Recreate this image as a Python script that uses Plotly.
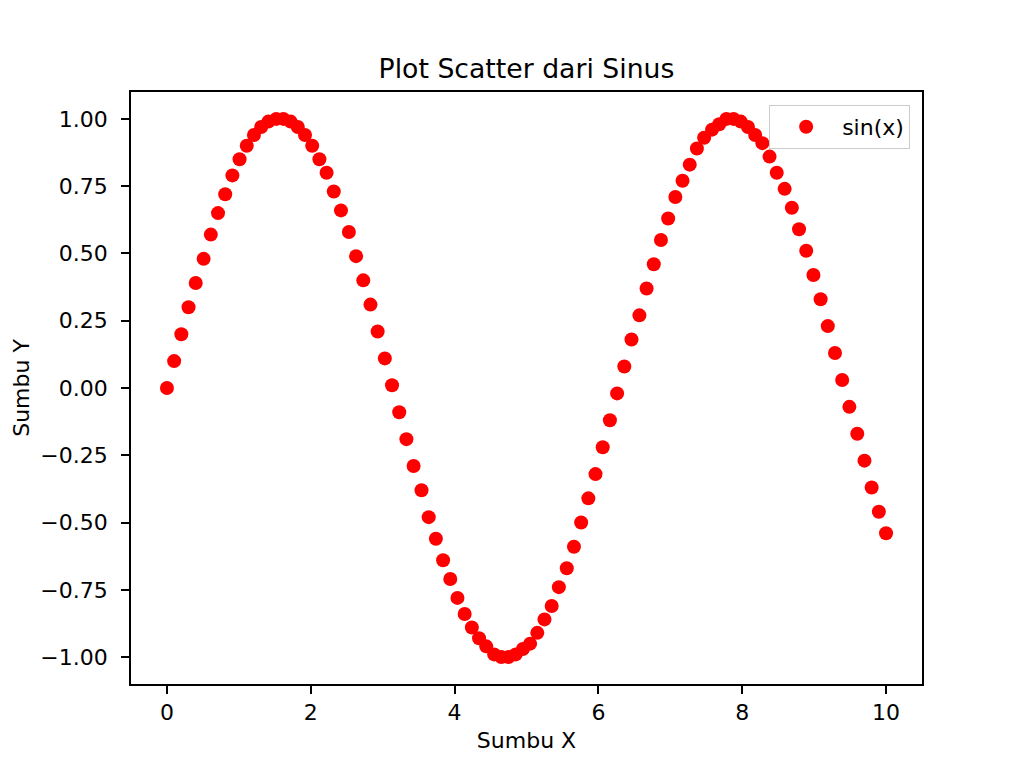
import plotly.graph_objects as go

# sample points (x from 0 to 10, 100 points)
x_vals = [0.00, 0.10, 0.20, 0.30, 0.40, 0.51, 0.61, 0.71, 0.81, 0.91,
          1.01, 1.11, 1.21, 1.31, 1.41, 1.52, 1.62, 1.72, 1.82, 1.92,
          2.02, 2.12, 2.22, 2.32, 2.42, 2.53, 2.63, 2.73, 2.83, 2.93,
          3.03, 3.13, 3.23, 3.33, 3.43, 3.54, 3.64, 3.74, 3.84, 3.94,
          4.04, 4.14, 4.24, 4.34, 4.44, 4.55, 4.65, 4.75, 4.85, 4.95,
          5.05, 5.15, 5.25, 5.35, 5.45, 5.56, 5.66, 5.76, 5.86, 5.96,
          6.06, 6.16, 6.26, 6.36, 6.46, 6.57, 6.67, 6.77, 6.87, 6.97,
          7.07, 7.17, 7.27, 7.37, 7.47, 7.58, 7.68, 7.78, 7.88, 7.98,
          8.08, 8.18, 8.28, 8.38, 8.48, 8.59, 8.69, 8.79, 8.89, 8.99,
          9.09, 9.19, 9.29, 9.39, 9.49, 9.60, 9.70, 9.80, 9.90, 10.00]
y_vals = [0.00, 0.10, 0.20, 0.30, 0.39, 0.48, 0.57, 0.65, 0.72, 0.79,
          0.85, 0.90, 0.94, 0.97, 0.99, 1.00, 1.00, 0.99, 0.97, 0.94,
          0.90, 0.85, 0.80, 0.73, 0.66, 0.58, 0.49, 0.40, 0.31, 0.21,
          0.11, 0.01, -0.09, -0.19, -0.29, -0.38, -0.48, -0.56, -0.64, -0.71,
          -0.78, -0.84, -0.89, -0.93, -0.96, -0.99, -1.00, -1.00, -0.99, -0.97,
          -0.95, -0.91, -0.86, -0.81, -0.74, -0.67, -0.59, -0.50, -0.41, -0.32,
          -0.22, -0.12, -0.02, 0.08, 0.18, 0.27, 0.37, 0.46, 0.55, 0.63,
          0.71, 0.77, 0.83, 0.89, 0.93, 0.96, 0.98, 1.00, 1.00, 0.99,
          0.97, 0.94, 0.91, 0.86, 0.80, 0.74, 0.67, 0.59, 0.51, 0.42,
          0.33, 0.23, 0.13, 0.03, -0.07, -0.17, -0.27, -0.37, -0.46, -0.54]

x_ticks = [0, 2, 4, 6, 8, 10]
y_ticks = [-1.0, -0.75, -0.5, -0.25, 0.0, 0.25, 0.5, 0.75, 1.0]
y_ticktext = ["\u22121.00", "\u22120.75", "\u22120.50", "\u22120.25",
              "0.00", "0.25", "0.50", "0.75", "1.00"]

FONT = "DejaVu Sans"
label_font = dict(family=FONT, size=22, color="black")

fig = go.Figure()
fig.add_trace(go.Scatter(
    x=x_vals, y=y_vals, mode="markers", name="sin(x)",
    marker=dict(color="#ff0000", size=14, line=dict(width=0)),
))

axis_common = dict(
    showgrid=False, zeroline=False, showline=True, mirror=True,
    linecolor="black", linewidth=1.8, ticks="outside", ticklen=8,
    tickwidth=1.8, tickcolor="black",
    tickfont=label_font,
)

# page has an 8px body margin, so the figure is 8px smaller than the window
fig.update_layout(
    width=1016, height=760,
    margin=dict(l=120, r=102, t=84, b=84),
    paper_bgcolor="white", plot_bgcolor="white",
    font=label_font,
    title=dict(text="Plot Scatter dari Sinus", x=0.5, xanchor="center",
               xref="paper", yref="container", y=1 - 61 / 760,
               yanchor="middle", font=dict(family=FONT, size=26.7, color="black")),
    xaxis=dict(range=[-0.5, 10.5], tickvals=x_ticks, ticktext=[str(t) for t in x_ticks],
               title=dict(text="Sumbu X", standoff=8, font=label_font),
               ticklabelstandoff=0, **axis_common),
    yaxis=dict(range=[-1.1, 1.1], tickvals=y_ticks, ticktext=y_ticktext,
               title=dict(text="Sumbu Y", standoff=5, font=label_font),
               ticklabelstandoff=9, **axis_common),
    showlegend=True,
    legend=dict(x=0.985, y=0.978, xanchor="right", yanchor="top", itemwidth=62,
                bordercolor="#cccccc", borderwidth=1, bgcolor="rgba(255,255,255,0.8)",
                font=label_font, tracegroupgap=0),
)

fig.write_html("out.html")
